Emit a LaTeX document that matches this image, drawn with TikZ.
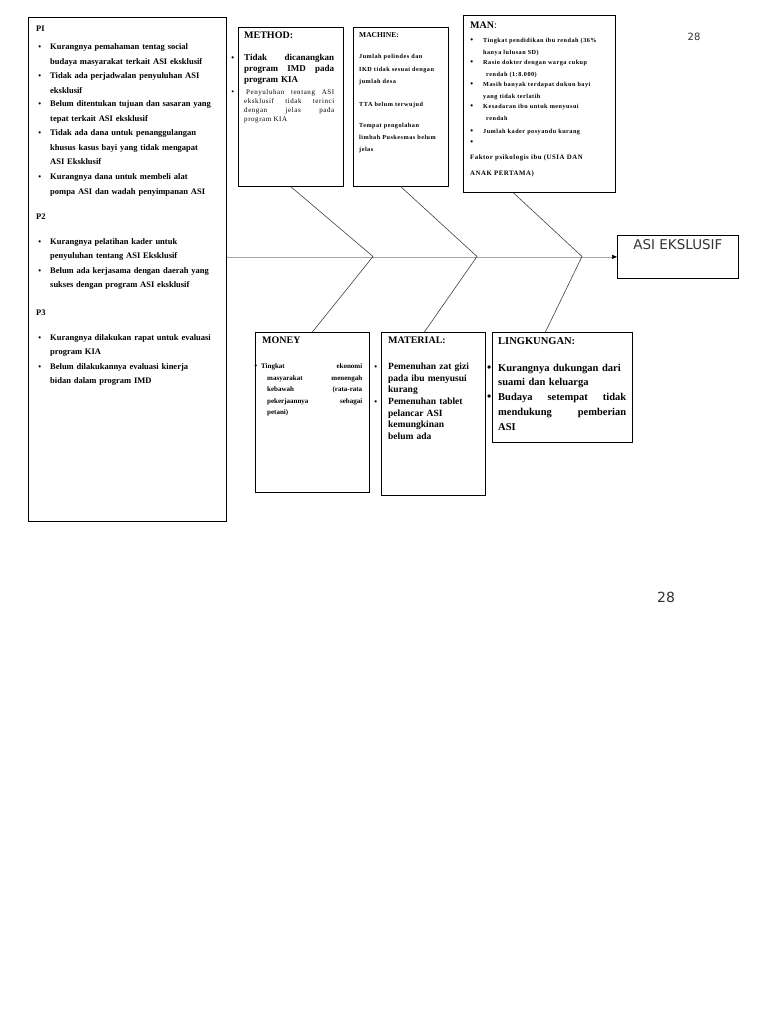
\documentclass[tikz,border=0pt]{standalone}
\usepackage{fontspec}
\setmainfont{Liberation Serif}
\newfontfamily\dejavu{DejaVu Sans}
\newfontfamily\spaced[LetterSpace=8]{Liberation Serif}
\usetikzlibrary{arrows.meta}
\newcommand\bul[2][8]{\leavevmode\llap{\fontsize{#1}{#1}\selectfont\textbullet\hspace{#2}}}
\tikzset{box/.style={draw,line width=0.8pt,anchor=north west,inner sep=0pt},
  txt/.style={anchor=base west,inner sep=0pt,align=left},
  ptxt/.style={txt,text width=172pt,font=\fontsize{8.5}{14.5}\selectfont\bfseries},
  head/.style={txt,font=\fontsize{10}{12}\selectfont\bfseries},
  smalltxt/.style={txt,text width=#1,font=\spaced\fontsize{6.2}{12}\selectfont\bfseries},
  bone/.style={black!75,line width=0.6pt},
  spine/.style={black!35,line width=0.6pt,-{Triangle[length=5pt,width=4pt,color=black]}},
  pagenum/.style={inner sep=0pt,text=black!80,font=\dejavu\fontsize{#1}{#1}\selectfont}}

\begin{document}
\begin{tikzpicture}[x=1pt,y=-1pt]
\useasboundingbox (0,0) rectangle (768,1024);
\node[box,minimum width=198pt,minimum height=504pt] (pbox) at (28,17) {};
\node[box,minimum width=105pt,minimum height=159pt] (method) at (238,27) {};
\node[box,minimum width=95pt,minimum height=159pt] (machine) at (353,27) {};
\node[box,minimum width=152pt,minimum height=177pt] (man) at (463,15) {};
\node[box,minimum width=121pt,minimum height=43pt] (goal) at (617,235) {};
\node[box,minimum width=114pt,minimum height=160pt] (money) at (255,332) {};
\node[box,minimum width=104pt,minimum height=163pt] (material) at (381,332) {};
\node[box,minimum width=140pt,minimum height=110pt] (lingkungan) at (492,332) {};

\node[ptxt] (p1) at (36,32) {PI};
\node[ptxt] (p1a) at (50,50) {\bul{9pt}Kurangnya pemahaman tentag social\\budaya masyarakat terkait ASI eksklusif};
\node[ptxt] (p1b) at (50,79) {\bul{9pt}Tidak ada perjadwalan penyuluhan ASI\\eksklusif};
\node[ptxt] (p1c) at (50,107) {\bul{9pt}Belum ditentukan tujuan dan sasaran yang\\tepat terkait ASI eksklusif};
\node[ptxt] (p1d) at (50,136) {\bul{9pt}Tidak ada dana untuk penanggulangan\\khusus kasus bayi yang tidak mengapat\\ASI Eksklusif};
\node[ptxt] (p1e) at (50,180) {\bul{9pt}Kurangnya dana untuk membeli alat\\pompa ASI dan wadah penyimpanan ASI};
\node[ptxt] (p2) at (36,220) {P2};
\node[ptxt] (p2a) at (50,244) {\bul{9pt}Kurangnya pelatihan kader untuk\\penyuluhan tentang ASI Eksklusif};
\node[ptxt] (p2b) at (50,273) {\bul{9pt}Belum ada kerjasama dengan daerah yang\\sukses dengan program ASI eksklusif};
\node[ptxt] (p3) at (36,315) {P3};
\node[ptxt] (p3a) at (50,340) {\bul{9pt}Kurangnya dilakukan rapat untuk evaluasi\\program KIA};
\node[ptxt] (p3b) at (50,369) {\bul{9pt}Belum dilakukannya evaluasi kinerja\\bidan dalam program IMD};

\node[head] (methodhead) at (244,39) {METHOD:};
\node[txt,text width=90pt,font=\fontsize{9}{11}\selectfont\bfseries] (methoda) at (244,61) {\bul{10pt}Tidak\hfill dicanangkan\\program\hfill IMD\hfill pada\\program KIA};
\node[txt,text width=90pt,font=\spaced\fontsize{7}{8.8}\selectfont] (methodb) at (244,95) {\hspace*{2pt}\bul{12pt}Penyuluhan\hfill tentang\hfill ASI\\eksklusif\hfill tidak\hfill terinci\\dengan\hfill jelas\hfill pada\\program KIA};

\node[head,font=\fontsize{7.5}{9}\selectfont\bfseries] (machinehead) at (359,38) {MACHINE:};
\node[smalltxt=88pt,font=\spaced\fontsize{6.2}{12.5}\selectfont\bfseries] (machinea) at (359,59) {Jumlah polindes dan\\IKD tidak sesuai dengan\\jumlah desa};
\node[smalltxt=88pt] (machineb) at (359,107) {TTA belum terwujud};
\node[smalltxt=88pt] (machinec) at (359,128) {Tempat pengolahan\\limbah Puskesmas belum\\jelas};

\node[head] (manhead) at (470,28.5) {MAN\mdseries:};
\node[smalltxt=130pt] (mana) at (483,43) {\bul{10pt}Tingkat pendidikan ibu rendah (36\%\\hanya lulusan SD)};
\node[smalltxt=130pt] (manb) at (483,65) {\bul{10pt}Rasio dokter dengan warga cukup\\\hspace*{3pt}rendah (1:8.000)};
\node[smalltxt=130pt] (manc) at (483,87) {\bul{10pt}Masih banyak terdapat dukun bayi\\yang tidak terlatih};
\node[smalltxt=130pt] (mand) at (483,109) {\bul{10pt}Kesadaran ibu untuk menyusui\\\hspace*{3pt}rendah};
\node[smalltxt=130pt] (mane) at (483,134) {\bul{10pt}Jumlah kader posyandu kurang};
\node[smalltxt=130pt] (manf) at (483,145) {\bul{10pt}};
\node[smalltxt=140pt,font=\spaced\fontsize{6.8}{16}\selectfont\bfseries] (mang) at (470,159.5) {Faktor psikologis ibu (USIA DAN\\ANAK PERTAMA)};

\node[pagenum=13.5] (goaltext) at ([yshift=-10pt]goal.north) {ASI EKSLUSIF};

\node[head] (moneyhead) at (262,343.5) {MONEY};
\node[txt,text width=95pt,font=\fontsize{7}{11.5}\selectfont\bfseries] (moneya) at (267,368.5) {\hspace*{-6pt}\bul{4pt}Tingkat\hfill ekonomi\\masyarakat\hfill menengah\\kebawah\hfill (rata-rata\\pekerjaannya\hfill sebagai\\petani)};

\node[head] (materialhead) at (388,343.5) {MATERIAL:};
\node[txt,text width=95pt,font=\fontsize{9.5}{11.5}\selectfont\bfseries] (materiala) at (388,369.5) {\bul{11pt}Pemenuhan zat gizi\\pada ibu menyusui\\kurang};
\node[txt,text width=95pt,font=\fontsize{9.5}{11.5}\selectfont\bfseries] (materialb) at (388,404.5) {\bul{11pt}Pemenuhan tablet\\pelancar ASI\\kemungkinan\\belum ada};

\node[head,font=\fontsize{10.5}{12}\selectfont\bfseries] (lingkunganhead) at (498,344.5) {LINGKUNGAN:};
\node[txt,text width=128pt,font=\fontsize{10.5}{14.75}\selectfont\bfseries] (lingkungana) at (498,371) {\bul[12]{7pt}Kurangnya dukungan dari\\suami dan keluarga};
\node[txt,text width=128pt,font=\fontsize{10.5}{14.75}\selectfont\bfseries] (lingkunganb) at (498,400.5) {\bul[12]{7pt}Budaya\hfill setempat\hfill tidak\\mendukung\hfill pemberian\\ASI};

\coordinate (j1) at (373,256.5);
\coordinate (j2) at (477,256.5);
\coordinate (j3) at (582,256.5);
\draw[spine] (goal.west -| pbox.east) -- (goal.west);
\draw[bone] (method.south) -- (j1) -- (money.north);
\draw[bone] (machine.south) -- (j2) -- ([xshift=-9pt]material.north);
\draw[bone] ([xshift=-26pt]man.south) -- (j3) -- ([xshift=-17pt]lingkungan.north);

\node[pagenum=10] (pagetop) at (694,37) {28};
\node[pagenum=14] (pagebottom) at (666,597) {28};
\end{tikzpicture}
\end{document}
